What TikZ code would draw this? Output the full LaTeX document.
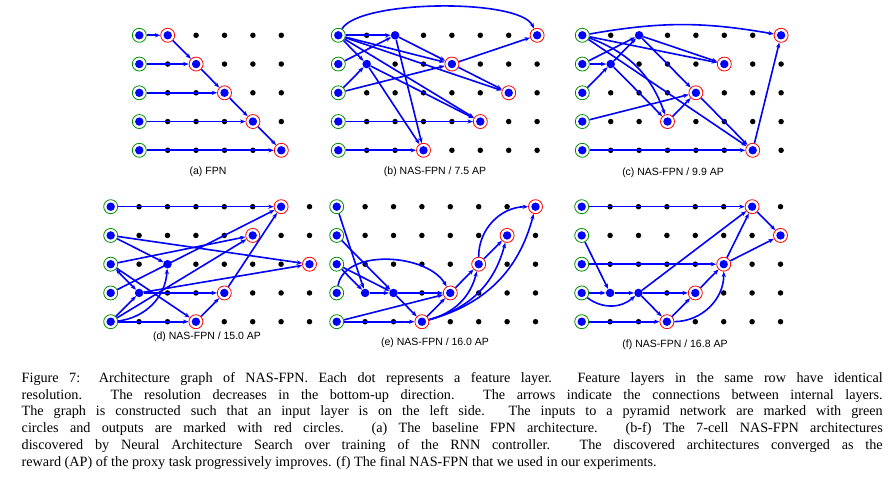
\documentclass[tikz,border=0pt]{standalone}
\usepackage{fontspec}
\setmainfont{Liberation Serif}
\setsansfont{Liberation Sans}
\usetikzlibrary{arrows.meta}
\tikzset{
 dot/.style={circle,fill=black,inner sep=0pt,minimum size=5.5pt},
 mid/.style={circle,fill=blue,inner sep=0pt,minimum size=8.5pt},
 ring/.style={circle,draw=#1,line width=0.8pt,inner sep=0pt,minimum size=14pt,
   path picture={\fill[blue] (path picture bounding box.center) circle (4.2pt);}},
 inp/.style={ring=green!55!black},
 outp/.style={ring=red},
 con/.style={blue,line width=1.6pt,-{Stealth[length=5.5pt,width=4.2pt]}},
 sub/.style={font=\sffamily\fontsize{10.5}{12}\selectfont},
}
\newcommand{\panel}[4]{% name, ox, oy, ncols-1
 \foreach \c in {0,...,#4}{\foreach \r in {0,...,4}{
   \node[dot] (#1-\c-\r) at ({#2+28.4*\c},{#3+28.75*\r}) {};}}
 \foreach \r in {0,...,4}{\node[inp] (#1-0-\r) at ({#2},{#3+28.75*\r}) {};}
}
\newcommand{\capline}[1]{\makebox[861pt][s]{#1}\\}
\begin{document}
\begin{tikzpicture}[x=1pt,y=-1pt]
\useasboundingbox (0,0) rectangle (893,502);
% ---------- (a)
\def\ax{139.3}\def\ay{35.3}
\panel{a}{\ax}{\ay}{5}
\foreach \r in {0,...,4}{\pgfmathtruncatemacro\cc{\r+1}
  \node[outp] (a-\cc-\r) at ({\ax+28.4*\cc},{\ay+28.75*\r}) {};}
\foreach \r in {0,...,4}{\pgfmathtruncatemacro\cc{\r+1}\draw[con] (a-0-\r) -- (a-\cc-\r);}
\draw[con] (a-1-0) -- (a-2-1);
\draw[con] (a-2-1) -- (a-3-2);
\draw[con] (a-3-2) -- (a-4-3);
\draw[con] (a-4-3) -- (a-5-4);
\node[sub] (la) at (208,172) {(a) FPN};
% ---------- (b)
\def\bx{338.3}\def\by{35.3}
\panel{b}{\bx}{\by}{7}
\node[mid] (b-2-0) at ({\bx+28.4*2},{\by}) {};
\node[mid] (b-1-1) at ({\bx+28.4},{\by+28.75}) {};
\node[outp] (b-7-0) at ({\bx+28.4*7},{\by}) {};
\node[outp] (b-4-1) at ({\bx+28.4*4},{\by+28.75}) {};
\node[outp] (b-6-2) at ({\bx+28.4*6},{\by+28.75*2}) {};
\node[outp] (b-5-3) at ({\bx+28.4*5},{\by+28.75*3}) {};
\node[outp] (b-3-4) at ({\bx+28.4*3},{\by+28.75*4}) {};
\draw[con] (b-0-0) to[out=60,in=115,looseness=0.45] (b-7-0);
\draw[con] (b-0-0) -- (b-2-0);
\draw[con] (b-0-1) -- (b-2-0);
\draw[con] (b-0-0) -- (b-1-1);
\draw[con] (b-0-2) -- (b-1-1);
\draw[con] (b-0-2) -- (b-4-1);
\draw[con] (b-4-1) -- (b-7-0);
\draw[con] (b-2-0) -- (b-4-1);
\draw[con] (b-0-0) -- (b-4-1);
\draw[con] (b-0-0) -- (b-6-2);
\draw[con] (b-4-1) -- (b-6-2);
\draw[con] (b-0-0) -- (b-5-3);
\draw[con] (b-1-1) -- (b-5-3);
\draw[con] (b-2-0) -- (b-3-4);
\draw[con] (b-1-1) -- (b-3-4);
\draw[con] (b-0-3) -- (b-5-3);
\draw[con] (b-0-4) -- (b-3-4);
\node[sub] (lb) at (435,172) {(b) NAS-FPN / 7.5 AP};
% ---------- (c)
\def\cx{582.3}\def\cy{35.3}
\panel{c}{\cx}{\cy}{7}
\node[mid] (c-2-0) at ({\cx+28.4*2},{\cy}) {};
\node[mid] (c-1-1) at ({\cx+28.4},{\cy+28.75}) {};
\node[outp] (c-7-0) at ({\cx+28.4*7},{\cy}) {};
\node[outp] (c-5-1) at ({\cx+28.4*5},{\cy+28.75}) {};
\node[outp] (c-4-2) at ({\cx+28.4*4},{\cy+28.75*2}) {};
\node[outp] (c-3-3) at ({\cx+28.4*3},{\cy+28.75*3}) {};
\node[outp] (c-6-4) at ({\cx+28.4*6},{\cy+28.75*4}) {};
\draw[con] (c-0-0) to[bend left=10] (c-7-0);
\draw[con] (c-0-1) -- (c-1-1);
\draw[con] (c-0-2) -- (c-1-1);
\draw[con] (c-0-1) -- (c-2-0);
\draw[con] (c-1-1) -- (c-2-0);
\draw[con] (c-0-0) -- (c-5-1);
\draw[con] (c-2-0) -- (c-5-1);
\draw[con] (c-2-0) -- (c-4-2);
\draw[con] (c-0-0) to[bend left=25] (c-3-3);
\draw[con] (c-1-1) -- (c-3-3);
\draw[con] (c-3-3) -- (c-4-2);
\draw[con] (c-0-3) -- (c-4-2);
\draw[con] (c-0-0) -- (c-6-4);
\draw[con] (c-4-2) -- (c-6-4);
\draw[con] (c-0-4) -- (c-6-4);
\draw[con] (c-6-4) -- (c-7-0);
\node[sub] (lc) at (673,173) {(c) NAS-FPN / 9.9 AP};
% ---------- (d)
\def\dx{110.7}\def\dy{206.7}
\panel{d}{\dx}{\dy}{7}
\node[mid] (d-2-2) at ({\dx+28.4*2},{\dy+28.75*2}) {};
\node[mid] (d-1-3) at ({\dx+28.4},{\dy+28.75*3}) {};
\node[outp] (d-6-0) at ({\dx+28.4*6},{\dy}) {};
\node[outp] (d-5-1) at ({\dx+28.4*5},{\dy+28.75}) {};
\node[outp] (d-7-2) at ({\dx+28.4*7},{\dy+28.75*2}) {};
\node[outp] (d-4-3) at ({\dx+28.4*4},{\dy+28.75*3}) {};
\node[outp] (d-3-4) at ({\dx+28.4*3},{\dy+28.75*4}) {};
\draw[con] (d-0-0) -- (d-6-0);
\draw[con] (d-0-1) -- (d-7-2);
\draw[con] (d-0-1) -- (d-2-2);
\draw[con] (d-0-2) -- (d-5-1);
\draw[con,{Stealth[length=5.5pt,width=4.2pt]}-{Stealth[length=5.5pt,width=4.2pt]}] (d-0-2) -- (d-1-3);
\draw[con] (d-0-2) -- (d-3-4);
\draw[con] (d-0-3) -- (d-6-0);
\draw[con] (d-0-4) -- (d-1-3);
\draw[con] (d-0-4) -- (d-5-1);
\draw[con] (d-0-4) to[bend right=40] (d-2-2);
\draw[con] (d-0-4) -- (d-3-4);
\draw[con] (d-1-3) -- (d-4-3);
\draw[con] (d-1-3) -- (d-7-2);
\draw[con] (d-3-4) -- (d-4-3);
\draw[con] (d-4-3) -- (d-6-0);
\node[sub] (ld) at (207,337) {(d) NAS-FPN / 15.0 AP};
% ---------- (e)
\def\ex{336.7}\def\ey{206.7}
\panel{e}{\ex}{\ey}{7}
\node[mid] (e-1-3) at ({\ex+28.4},{\ey+28.75*3}) {};
\node[mid] (e-2-3) at ({\ex+28.4*2},{\ey+28.75*3}) {};
\node[outp] (e-7-0) at ({\ex+28.4*7},{\ey}) {};
\node[outp] (e-6-1) at ({\ex+28.4*6},{\ey+28.75}) {};
\node[outp] (e-5-2) at ({\ex+28.4*5},{\ey+28.75*2}) {};
\node[outp] (e-4-3) at ({\ex+28.4*4},{\ey+28.75*3}) {};
\node[outp] (e-3-4) at ({\ex+28.4*3},{\ey+28.75*4}) {};
\draw[con] (e-0-0) -- (e-1-3);
\draw[con] (e-0-1) -- (e-2-3);
\draw[con] (e-0-2) -- (e-1-3);
\draw[con] (e-0-2) -- (e-2-3);
\draw[con] (e-0-3) to[out=80,in=120,looseness=0.9] (e-4-3);
\draw[con] (e-1-3) -- (e-2-3);
\draw[con] (e-2-3) -- (e-4-3);
\draw[con] (e-2-3) -- (e-3-4);
\draw[con] (e-0-4) -- (e-3-4);
\draw[con] (e-0-4) -- (e-4-3);
\draw[con] (e-3-4) -- (e-4-3);
\draw[con] (e-4-3) -- (e-5-2);
\draw[con] (e-5-2) -- (e-6-1);
\draw[con] (e-5-2) to[bend left=45] (e-7-0);
\draw[con] (e-3-4) to[bend right=30] (e-5-2);
\draw[con] (e-3-4) to[bend right=30] (e-6-1);
\draw[con] (e-3-4) to[bend right=30] (e-7-0);
\node[sub] (le) at (435,343) {(e) NAS-FPN / 16.0 AP};
% ---------- (f)
\def\fx{581.7}\def\fy{206.7}
\panel{f}{\fx}{\fy}{7}
\node[mid] (f-1-3) at ({\fx+28.4},{\fy+28.75*3}) {};
\node[mid] (f-2-3) at ({\fx+28.4*2},{\fy+28.75*3}) {};
\node[outp] (f-6-0) at ({\fx+28.4*6},{\fy}) {};
\node[outp] (f-7-1) at ({\fx+28.4*7},{\fy+28.75}) {};
\node[outp] (f-5-2) at ({\fx+28.4*5},{\fy+28.75*2}) {};
\node[outp] (f-4-3) at ({\fx+28.4*4},{\fy+28.75*3}) {};
\node[outp] (f-3-4) at ({\fx+28.4*3},{\fy+28.75*4}) {};
\draw[con] (f-0-0) -- (f-6-0);
\draw[con] (f-0-1) -- (f-1-3);
\draw[con] (f-0-2) -- (f-5-2);
\draw[con] (f-0-3) -- (f-1-3);
\draw[con] (f-0-3) to[bend right=40] (f-2-3);
\draw[con] (f-1-3) -- (f-2-3);
\draw[con] (f-2-3) -- (f-6-0);
\draw[con] (f-2-3) -- (f-4-3);
\draw[con] (f-2-3) -- (f-3-4);
\draw[con] (f-0-4) -- (f-3-4);
\draw[con] (f-3-4) -- (f-4-3);
\draw[con] (f-4-3) -- (f-5-2);
\draw[con] (f-3-4) to[bend right=45] (f-5-2);
\draw[con] (f-5-2) -- (f-6-0);
\draw[con] (f-5-2) -- (f-7-1);
\draw[con] (f-6-0) -- (f-7-1);
\node[sub] (lf) at (675,345) {(f) NAS-FPN / 16.8 AP};
% ---------- caption
\node[anchor=north west,inner sep=0pt,align=left,
  font=\fontsize{14.2}{16.8}\selectfont] (cap) at (21.5,372) {%
\capline{Figure 7: Architecture graph of NAS-FPN. Each dot represents a feature layer. Feature layers in the same row have identical}
\capline{resolution. The resolution decreases in the bottom-up direction. The arrows indicate the connections between internal layers.}
\capline{The graph is constructed such that an input layer is on the left side. The inputs to a pyramid network are marked with green}
\capline{circles and outputs are marked with red circles. (a) The baseline FPN architecture. (b-f) The 7-cell NAS-FPN architectures}
\capline{discovered by Neural Architecture Search over training of the RNN controller. The discovered architectures converged as the}
reward (AP) of the proxy task progressively improves. (f) The final NAS-FPN that we used in our experiments.};
\end{tikzpicture}
\end{document}
